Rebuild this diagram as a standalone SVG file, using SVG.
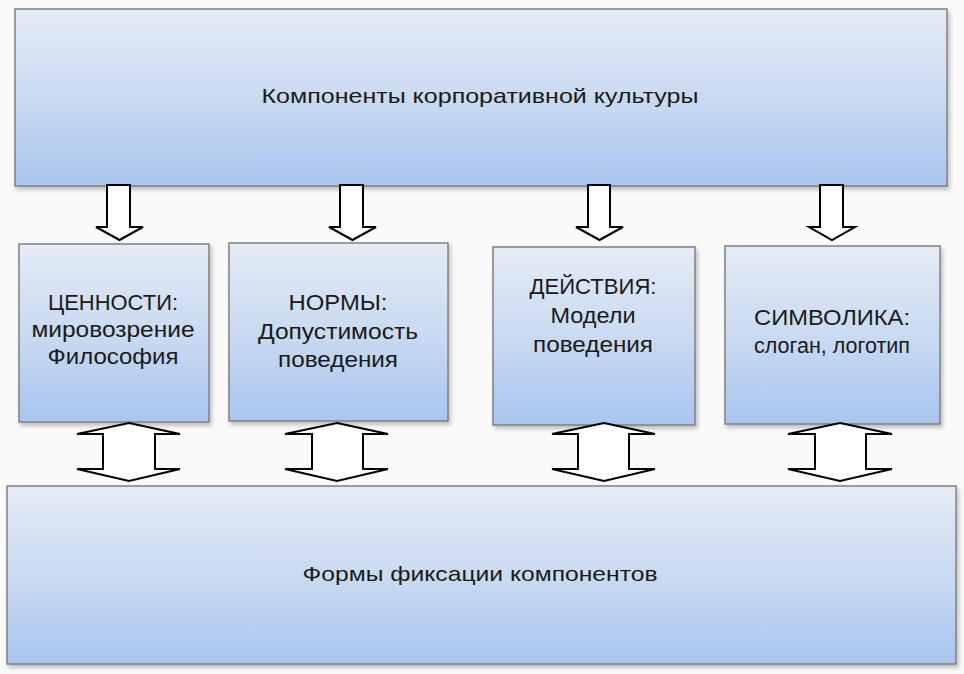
<svg xmlns="http://www.w3.org/2000/svg" width="964" height="674" viewBox="0 0 964 674">
<defs>
<linearGradient id="g" x1="0" y1="0" x2="0" y2="1">
<stop offset="0" stop-color="#e4ecf6"/>
<stop offset="0.5" stop-color="#cadaf1"/>
<stop offset="1" stop-color="#a9c5ef"/>
</linearGradient>
<filter id="sh" x="-5%" y="-5%" width="110%" height="115%">
<feDropShadow dx="2" dy="3" stdDeviation="2" flood-color="#000" flood-opacity="0.25"/>
</filter>
</defs>
<style>
.box{fill:url(#g);stroke:#808080;stroke-width:1.5;filter:url(#sh)}
.t{font-family:"Liberation Sans",Arial,sans-serif;fill:#1a1a1a;text-anchor:middle}
.big{font-size:21px}
.mid{font-size:22.5px}
.arr{fill:#fff;stroke:#000;stroke-width:2;stroke-linejoin:miter}
</style>
<rect width="964" height="674" fill="#fafafa"/>
<g id="top">
<rect class="box" x="15" y="9" width="932" height="177"/>
<text class="t big" x="480" y="103" textLength="437" lengthAdjust="spacingAndGlyphs">Компоненты корпоративной культуры</text>
</g>
<g id="n1">
<rect class="box" x="19" y="244" width="190" height="178"/>
<text class="t mid" x="113" y="310" textLength="130" lengthAdjust="spacingAndGlyphs">ЦЕННОСТИ:</text>
<text class="t mid" x="113" y="337" textLength="163" lengthAdjust="spacingAndGlyphs">мировозрение</text>
<text class="t mid" x="113" y="364" textLength="131" lengthAdjust="spacingAndGlyphs">Философия</text>
</g>
<g id="n2">
<rect class="box" x="229" y="243" width="219" height="178"/>
<text class="t mid" x="338" y="310" textLength="99" lengthAdjust="spacingAndGlyphs">НОРМЫ:</text>
<text class="t mid" x="338" y="339" textLength="160" lengthAdjust="spacingAndGlyphs">Допустимость</text>
<text class="t mid" x="338" y="367" textLength="120" lengthAdjust="spacingAndGlyphs">поведения</text>
</g>
<g id="n3">
<rect class="box" x="493" y="247" width="202" height="178"/>
<text class="t mid" x="593" y="294" textLength="127" lengthAdjust="spacingAndGlyphs">ДЕЙСТВИЯ:</text>
<text class="t mid" x="593" y="323" textLength="85" lengthAdjust="spacingAndGlyphs">Модели</text>
<text class="t mid" x="593" y="352" textLength="120" lengthAdjust="spacingAndGlyphs">поведения</text>
</g>
<g id="n4">
<rect class="box" x="725" y="246" width="215" height="178"/>
<text class="t mid" x="832" y="325" textLength="156" lengthAdjust="spacingAndGlyphs">СИМВОЛИКА:</text>
<text class="t mid" x="832" y="353" textLength="156" lengthAdjust="spacingAndGlyphs">слоган, логотип</text>
</g>
<g id="bottom">
<rect class="box" x="7" y="486" width="949" height="178"/>
<text class="t big" x="480" y="581" textLength="355" lengthAdjust="spacingAndGlyphs">Формы фиксации компонентов</text>
</g>
<g id="connectors">
<polygon class="arr" points="107,185 130,185 130,227 143,227 119.5,240 96,227 107,227"/>
<polygon class="arr" points="340,185 363,185 363,227 376,227 352.5,240 329,227 340,227"/>
<polygon class="arr" points="588,185 610,185 610,227 623,227 599.5,240 576,227 588,227"/>
<polygon class="arr" points="820,185 843,185 843,227 855,227 832,240 809,227 820,227"/>
<polygon class="arr" points="129,423 180,434 155,434 155,469 180,469 129,481 77,469 103,469 103,434 77,434"/>
<polygon class="arr" points="337,423 388,434 363,434 363,469 388,469 337,481 285,469 312,469 312,434 285,434"/>
<polygon class="arr" points="604,423 655,434 629,434 629,469 655,469 604,481 552,469 578,469 578,434 552,434"/>
<polygon class="arr" points="840,423 892,434 866,434 866,469 892,469 840,481 788,469 815,469 815,434 788,434"/>
</g>
</svg>
